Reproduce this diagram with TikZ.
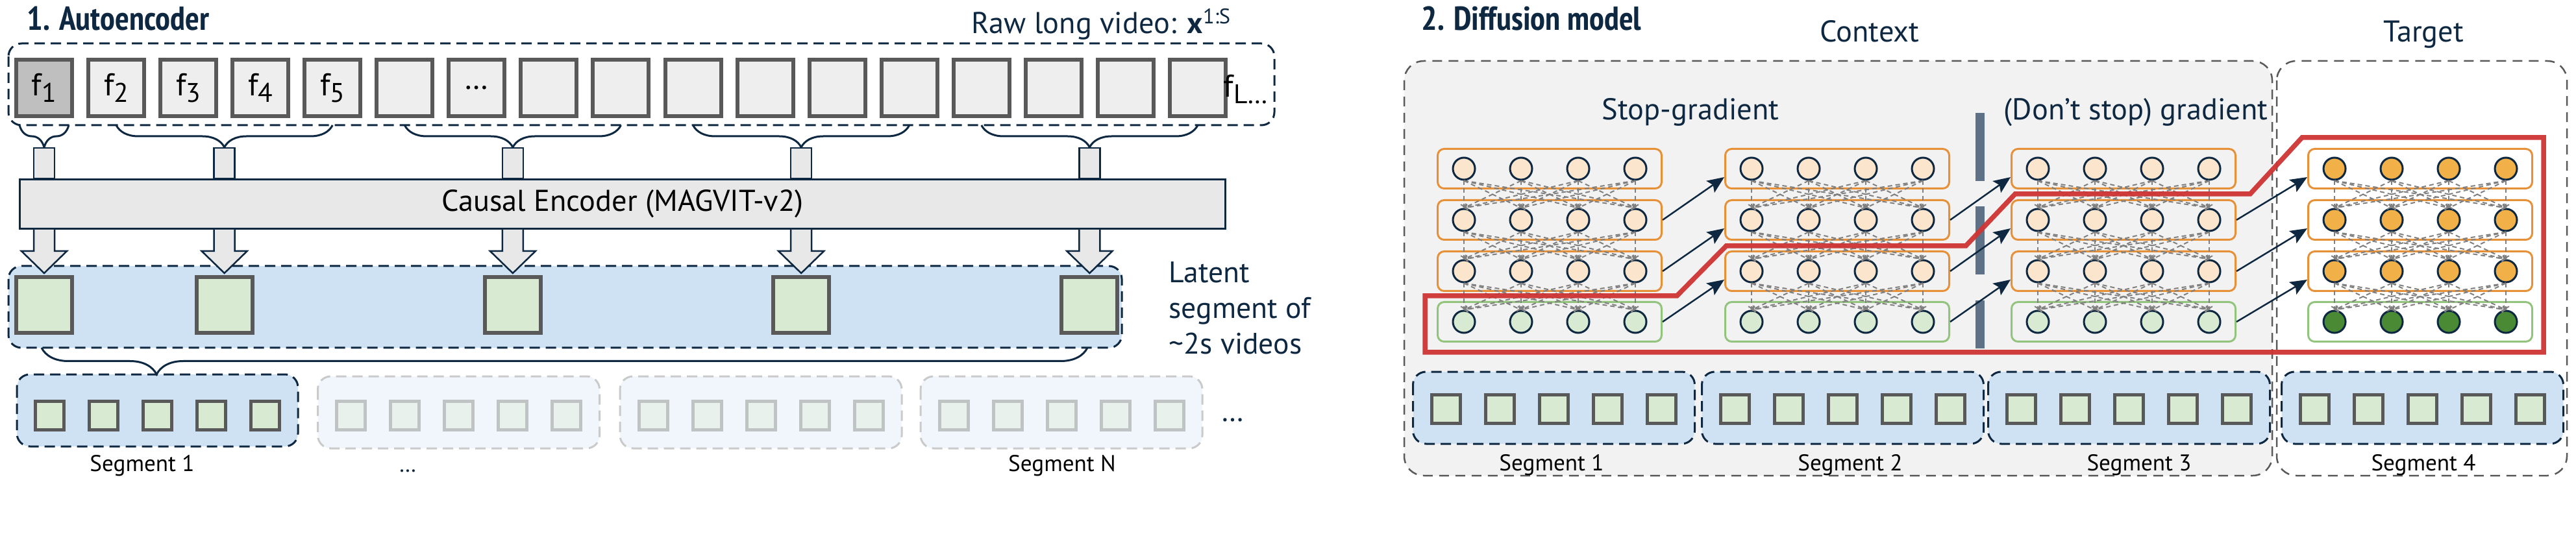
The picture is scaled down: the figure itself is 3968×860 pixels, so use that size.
\documentclass[tikz,border=0pt]{standalone}
\usepackage{fontspec}
\setmainfont{PT Sans}
\IfFontExistsTF{PT Sans Narrow}
  {\newfontfamily\titlefont{PT Sans Narrow}}
  {\newfontfamily\titlefont{PT Sans}[FakeStretch=0.85]}
\usetikzlibrary{calc,arrows.meta,decorations.pathreplacing}

\definecolor{navy}{HTML}{0E2841}
\definecolor{framegray}{HTML}{595959}
\definecolor{framefill}{HTML}{EEEEEE}
\definecolor{fonefill}{HTML}{BFBFBF}
\definecolor{encfill}{HTML}{E8E8E8}
\definecolor{latblue}{HTML}{CFE2F3}
\definecolor{latgreen}{HTML}{D9EAD3}
\definecolor{fadeline}{HTML}{CACACA}
\definecolor{fadeblue}{HTML}{F1F6FC}
\definecolor{fadebox}{HTML}{BFC3C3}
\definecolor{fadegreen}{HTML}{E9F1EC}
\definecolor{ctxfill}{HTML}{F2F2F2}
\definecolor{ctxline}{HTML}{595959}
\definecolor{layorange}{HTML}{E69138}
\definecolor{laygreen}{HTML}{93C47D}
\definecolor{peach}{HTML}{FCE5CD}
\definecolor{tgtorange}{HTML}{F1B048}
\definecolor{tgtgreen}{HTML}{4A8A34}
\definecolor{gradred}{HTML}{CF3434}
\definecolor{barslate}{HTML}{5E7186}
\definecolor{linkgray}{HTML}{808080}

\newcommand{\fidx}[1]{f\raisebox{-1mm}{\fontsize{11.8}{12}\selectfont #1}}

\begin{document}
\begin{tikzpicture}[x=0.1mm, y=-0.1mm,
  frame/.style={draw=framegray, line width=0.6mm, fill=framefill, minimum width=8.6mm,
    minimum height=8.7mm, inner sep=0, font=\fontsize{13.8}{14}\selectfont},
  latent/.style={frame, fill=latgreen, minimum height=8.6mm},
  small/.style={draw=framegray, line width=0.5mm, fill=latgreen, minimum size=4.4mm, inner sep=0},
  fadesmall/.style={small, draw=fadebox, fill=fadegreen},
  dashbox/.style={draw=navy, line width=0.3mm, dash pattern=on 1.6mm off 0.9mm, rounded corners=2mm},
  segbox/.style={dashbox, fill=latblue},
  fadeseg/.style={segbox, draw=fadeline, fill=fadeblue},
  ctxbox/.style={draw=ctxline, line width=0.25mm, dash pattern=on 1.5mm off 1mm, rounded corners=3mm},
  stub/.style={draw=navy, line width=0.25mm, fill=encfill, minimum width=3.2mm,
    minimum height=4.7mm, inner sep=0},
  enc/.style={draw=navy, line width=0.3mm, fill=encfill, minimum width=185.7mm,
    minimum height=7.6mm, inner sep=0, font=\fontsize{13.2}{14}\selectfont},
  blockarrow/.style={draw=navy, line width=0.25mm, fill=encfill},
  brace/.style={draw=navy, line width=0.3mm, decorate, decoration={brace, mirror, amplitude=3.4mm}},
  title/.style={font=\titlefont\fontsize{14.6}{15}\selectfont\bfseries, text=navy,
    anchor=base west, inner sep=0},
  head/.style={font=\fontsize{13.2}{14}\selectfont, text=navy, anchor=base, inner sep=0},
  seglabel/.style={font=\fontsize{10}{10}\selectfont, anchor=base, inner sep=0},
  layer/.style={draw=layorange, line width=0.3mm, rounded corners=1mm, minimum width=34.5mm,
    minimum height=6.1mm, inner sep=0},
  unit/.style={circle, draw=navy, line width=0.3mm, minimum size=3.4mm, inner sep=0},
  link/.style={draw=linkgray, line width=0.2mm, dash pattern=on 0.7mm off 0.5mm,
    -{To[length=0.6mm,width=1.1mm]}},
  pass/.style={draw=navy, line width=0.25mm, -{Stealth[length=2.6mm,width=2.2mm,inset=0.5mm]}}]

\useasboundingbox (0,0) rectangle (3968,860);

\node[title] (t1) at (41,47) {1. Autoencoder};
\node[head, anchor=base west] (raw) at (1496,52) {Raw long video: \textbf{x}\textsuperscript{1:S}};
\draw[dashbox] (13,67) rectangle (1963,193);

\node[frame, fill=fonefill] (fr1) at (68,135.5) {\fidx{1}};
\foreach \k in {2,...,5}
  \node[frame] (fr\k) at ({68+(\k-1)*111.06},135.5) {\fidx{\k}};
\foreach \k in {6,...,17}
  \node[frame] (fr\k) at ({68+(\k-1)*111.06},135.5) {};
\node[font=\fontsize{13.8}{14}\selectfont, inner sep=0] (dots) at (fr7) {\dots};
\node[anchor=base west, inner sep=0, font=\fontsize{13.8}{14}\selectfont] (flast) at (1884,150)
  {f\raisebox{-1mm}{\fontsize{11.8}{12}\selectfont L\dots}};

\draw[brace] ($(fr1.center |- 0,193)+(-38,0)$) -- ($(fr1.center |- 0,193)+(38,0)$) coordinate[midway] (b1);
\foreach \a/\b/\n in {2/5/2,6/9/3,10/13/4,14/17/5}
  \draw[brace] (fr\a.center |- 0,193) -- (fr\b.center |- 0,193) coordinate[midway] (b\n);
\foreach \n in {1,...,5}
  \node[stub] (st\n) at (b\n |- 0,251.5) {};

\node[enc] (enc) at (959,314.5) {Causal Encoder (MAGVIT-v2)};

\draw[segbox] (13,410) rectangle (1728,536);
\foreach \n in {1,...,5}
  \node[latent] (lat\n) at (st\n |- 0,470) {};
\foreach \n in {1,...,5}
  \draw[blockarrow] ($(enc.south -| st\n)+(-16,0)$) -- ($(lat\n.north)+(-16,-37)$)
    -- ($(lat\n.north)+(-35,-37)$) -- ($(lat\n.north)+(0,-3)$) -- ($(lat\n.north)+(35,-37)$)
    -- ($(lat\n.north)+(16,-37)$) -- ($(enc.south -| st\n)+(16,0)$);

\node[head, anchor=north west, align=left, font=\fontsize{13}{15.6}\selectfont] (note) at (1800,403)
  {Latent\\segment of\\\textasciitilde2s videos};

\draw[segbox] (26,577) rectangle (459,688);
\foreach \i/\dx in {1/-166,2/-83,3/0,4/83,5/166}
  \node[small] (p1-\i) at (242.5+\dx,640.5) {};
\foreach \s/\cx in {2/706.5,3/1172,4/1635}{
  \draw[fadeseg] (\cx-217,580) rectangle (\cx+217,691);
  \foreach \i/\dx in {1/-166,2/-83,3/0,4/83,5/166}
    \node[fadesmall] (p\s-\i) at (\cx+\dx,640) {};
}
\draw[brace, decoration={amplitude=4.1mm, aspect=0.11}] (64,536) -- (1675,536);

\node[seglabel] (s1) at (219,726) {Segment 1};
\node[seglabel, text=navy] (s2) at (628,727) {\dots};
\node[seglabel] (sn) at (1636,726) {Segment N};
\node[seglabel, text=navy, font=\fontsize{13}{13}\selectfont] (more) at (1899,650) {\dots};

\node[title] (t2) at (2189,47) {2. Diffusion model};
\node[head] (ctx) at (2880,65) {Context};
\node[head] (tgt) at (3733,65) {Target};
\draw[ctxbox, fill=ctxfill] (2163,94) rectangle (3500,733);
\draw[ctxbox] (3507,94) rectangle (3954,733);
\node[head] (stop) at (2604,185) {Stop-gradient};
\node[head] (nostop) at (3290,185) {(Don’t stop) gradient};

\fill[barslate] (3043,174) rectangle (3057,279);
\fill[barslate] (3043,318) rectangle (3057,423);
\fill[barslate] (3043,463) rectangle (3057,537);

\foreach \s/\cx in {1/2387,2/2830,3/3271,4/3728}{
  \foreach \r/\cy in {1/260,2/339,3/418}
    \node[layer] (row\s-\r) at (\cx,\cy) {};
  \node[layer, draw=laygreen] (row\s-4) at (\cx,496) {};
}

\foreach \s/\cx/\upfill/\lowfill in {1/2387/peach/latgreen,2/2830/peach/latgreen,3/3271/peach/latgreen,4/3728/tgtorange/tgtgreen}
  \foreach \i/\dx in {1/-132,2/-44,3/44,4/132}{
    \foreach \r/\cy in {1/260,2/339,3/418}
      \node[unit, fill=\upfill] (n\s-\r-\i) at (\cx+\dx,\cy) {};
    \node[unit, fill=\lowfill] (n\s-4-\i) at (\cx+\dx,496) {};
  }

\foreach \s in {1,...,4}
  \foreach \r/\q in {1/2,2/3,3/4}
    \foreach \i in {1,...,4}
      \foreach \j in {1,...,4}
        \draw[link] (n\s-\r-\i.south) -- (n\s-\q-\j.north);

\draw[gradred, line width=0.75mm, opacity=0.95] (2195,456) -- (2583,456) -- (2659,379) -- (3028,379)
  -- (3104,299) -- (3466,299) -- (3546,212) -- (3918,212) -- (3918,543) -- (2195,543) -- cycle;

\foreach \s/\t in {1/2,2/3,3/4}
  \foreach \r/\q in {2/1,3/2,4/3}
    \draw[pass] (row\s-\r.east) -- ([yshift=-1.3mm]row\t-\q.west);

\foreach \s/\cx in {1/2393.5,2/2838.5,3/3279.5,4/3731.5}{
  \draw[segbox] (\cx-217,573) rectangle (\cx+217,684);
  \foreach \i/\dx in {1/-166,2/-83,3/0,4/83,5/166}
    \node[small] (q\s-\i) at (\cx+\dx,630) {};
}
\node[seglabel] (g1) at (2390,725) {Segment 1};
\node[seglabel] (g2) at (2850,725) {Segment 2};
\node[seglabel] (g3) at (3295,725) {Segment 3};
\node[seglabel] (g4) at (3733,725) {Segment 4};

\end{tikzpicture}
\end{document}
